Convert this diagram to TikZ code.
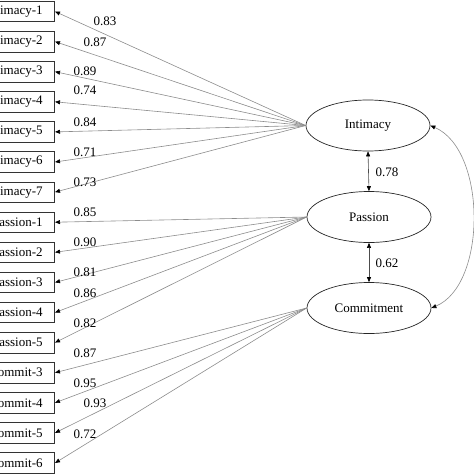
\documentclass[tikz,border=0pt]{standalone}
\usepackage{fontspec}
\setmainfont{Liberation Serif}
\usetikzlibrary{shapes.geometric,arrows.meta}
\begin{document}
\begin{tikzpicture}[x=1pt,y=-1pt,
  font=\fontsize{13}{15}\selectfont,
  item/.style={draw=black!80,line width=0.7pt,anchor=east,minimum height=20.5pt,
     text width=60pt,align=right,inner xsep=12pt,inner ysep=0pt},
  latent/.style={draw=black!85,line width=0.7pt,ellipse,minimum width=124pt,minimum height=51pt,inner sep=0pt},
  load/.style={draw=black!45,line width=0.6pt,-{Triangle[length=5pt,width=4pt,black]}},
  corr/.style={draw=black!70,line width=0.6pt,{Triangle[length=5pt,width=4pt,black]}-{Triangle[length=5pt,width=4pt,black]}},
  lab/.style={inner sep=0pt}]
\useasboundingbox (0,0) rectangle (474,474);
\clip (0,0) rectangle (474,474);
% latent variables
\node[latent] (int) at (368,125.5) {Intimacy};
\node[latent] (pas) at (369,217) {Passion};
\node[latent] (com) at (369,308) {Commitment};
% observed items
\foreach \n/\t [count=\i from 0] in {i1/Intimacy-1,i2/Intimacy-2,i3/Intimacy-3,i4/Intimacy-4,i5/Intimacy-5,i6/Intimacy-6,i7/Intimacy-7,p1/Passion-1,p2/Passion-2,p3/Passion-3,p4/Passion-4,p5/Passion-5,c3/Commit-3,c4/Commit-4,c5/Commit-5,c6/Commit-6}
  \node[item] (\n) at (55,{11.5+30.1*\i}) {\t};
% loadings
\foreach \n in {i1,i2,i3,i4,i5,i6,i7} \draw[load] (int.west) -- (\n.east);
\foreach \n in {p1,p2,p3,p4,p5} \draw[load] (pas.west) -- (\n.east);
\foreach \n in {c3,c4,c5,c6} \draw[load] (com.west) -- (\n.east);
% loading labels
\node[lab] (l1) at (105,21) {0.83};
\node[lab] (l2) at (95,42) {0.87};
\node[lab] (l3) at (85,71.5) {0.89};
\node[lab] (l4) at (85,90) {0.74};
\node[lab] (l5) at (85,122) {0.84};
\node[lab] (l6) at (85,152) {0.71};
\node[lab] (l7) at (85,182.5) {0.73};
\node[lab] (l8) at (85,212.5) {0.85};
\node[lab] (l9) at (85,242.5) {0.90};
\node[lab] (l10) at (85,272.5) {0.81};
\node[lab] (l11) at (85,293) {0.86};
\node[lab] (l12) at (85,323.5) {0.82};
\node[lab] (l13) at (85,353.5) {0.87};
\node[lab] (l14) at (85,383.5) {0.95};
\node[lab] (l15) at (95,403.5) {0.93};
\node[lab] (l16) at (85,434) {0.72};
% correlations
\draw[corr] (int.south) -- (pas.north);
\draw[corr] (pas.south) -- (com.north);
\node[lab] (r1) at (387,172) {0.78};
\node[lab] (r2) at (387,263) {0.62};
\draw[corr,draw=black!45] (int.east) .. controls (487,150) and (487,285) .. (com.east);
\end{tikzpicture}
\end{document}
